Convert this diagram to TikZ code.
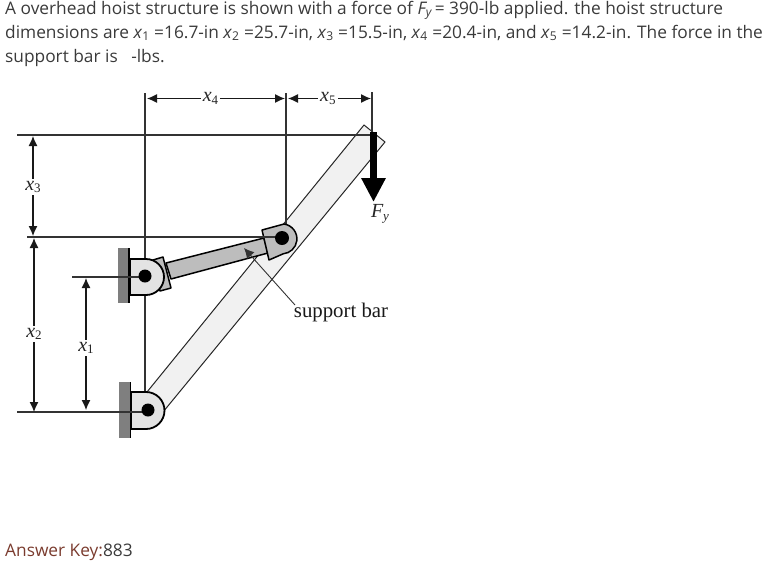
\documentclass[tikz,border=0pt]{standalone}
\usepackage{xcolor}
\usepackage{fontspec}
\setmainfont{Open Sans}
\newfontfamily\figfont{Liberation Serif}
\usetikzlibrary{arrows.meta,positioning}
\definecolor{txtgray}{HTML}{3A3A3A}
\definecolor{anskey}{HTML}{7A3B2E}
\definecolor{wallgray}{HTML}{7F7F7F}
\definecolor{linkgray}{HTML}{BDBDBD}
\definecolor{barlight}{HTML}{F1F1F1}
\definecolor{clevis}{HTML}{E3E3E3}
\newcommand{\xlab}[1]{{\figfont\fontsize{20}{20}\selectfont\textit{x}\raisebox{-2.5pt}{\fontsize{13}{13}\selectfont #1}}}
\newcommand{\xtxt}[1]{\textit{x}\textsubscript{#1}}
\tikzset{
  txtline/.style={anchor=base west,inner sep=0pt,text=txtgray,font=\fontsize{17.3}{17.3}\selectfont},
  guide/.style={draw=black!80,line width=1.1pt},
  dimline/.style={black!90,line width=1.2pt,{Latex[length=10pt,width=9pt]}-{Latex[length=10pt,width=9pt]}},
  dimlabel/.style={fill=white,inner sep=2pt,text=black!85},
  part/.style={draw=black,line width=1.8pt,line join=round}
}
\begin{document}
\begin{tikzpicture}[x=1pt,y=-1pt]
  \useasboundingbox (0,0) rectangle (770,560);
  % question text
  \node[txtline] (lineone) at (5,14) {A overhead hoist structure is shown with a force of \textit{F\textsubscript{y}}\,= 390-lb applied. the hoist structure};
  \node[txtline] (linetwo) at (5,38) {dimensions are \xtxt{1} =16.7-in \xtxt{2} =25.7-in, \xtxt{3} =15.5-in, \xtxt{4} =20.4-in, and \xtxt{5} =14.2-in. The force in the};
  \node[txtline] (linethree) at (5,62) {support bar is \ \ -lbs.};
  % support bar
  \draw[draw=black!85,line width=1pt,fill=barlight] (147,392) -- (364,125) -- (385,142) -- (163,412) -- cycle;
  % guide lines
  \coordinate (topleft) at (17,135);
  \coordinate (topright) at (372,135);
  \coordinate (midleft) at (27,237);
  \coordinate (midright) at (282,237);
  \coordinate (pinleft) at (72,277);
  \coordinate (pinright) at (146,277);
  \coordinate (botleft) at (17,412);
  \coordinate (botright) at (148,412);
  \coordinate (xa) at (145,93);
  \coordinate (xaend) at (145,392);
  \coordinate (xb) at (286,93);
  \coordinate (xbend) at (286,226);
  \coordinate (xc) at (372,92);
  \coordinate (xcend) at (372,132);
  \draw[guide] (topleft) -- (topright);
  \draw[guide] (midleft) -- (midright);
  \draw[guide] (xa) -- (xaend);
  \draw[guide] (xb) -- (xbend);
  \draw[guide] (xc) -- (xcend);
  % walls
  \fill[wallgray] (118,248) rectangle (129,303);
  \fill[wallgray] (119,382) rectangle (130,438);
  \draw[line width=1.5pt] (129,248) -- (129,303);
  \draw[line width=1.5pt] (130.5,382) -- (130.5,438);
  % link
  \draw[part,line width=1.5pt,fill=linkgray] (153,260) -- (163,257) -- (171,288) -- (160,291) -- cycle;
  \draw[part,line width=1.5pt,fill=linkgray] (166,263) -- (264,238) -- (268,253) -- (171,279) -- cycle;
  \draw[part,line width=1.5pt,fill=linkgray] (262,230) -- (284,224) arc[start angle=-82,end angle=85,radius=15] -- (269,260) -- cycle;
  % brackets and pins
  \draw[part,fill=clevis] (130,259) -- (146,259) arc[start angle=-90,end angle=90,radius=18] -- (130,295) -- cycle;
  \draw[part,fill=clevis] (131,392) -- (146,392) arc[start angle=-90,end angle=90,radius=18.5] -- (131,429) -- cycle;
  \draw[guide] (pinleft) -- (pinright);
  \draw[guide] (botleft) -- (botright);
  \draw[guide] (midleft) -- (midright);
  \fill (145,276) circle (6.5);
  \fill (148,410) circle (6.5);
  \fill (282,238) circle (7);
  % leader of the bar label
  \coordinate (leadtip) at (244,248);
  \coordinate (leadend) at (295,305);
  \draw[black!80,line width=.9pt,{Latex[length=10pt,width=10pt]}-] (leadtip) -- (leadend);
  \node[font=\figfont\fontsize{20.8}{20.8}\selectfont,text=black!90,inner sep=0pt] (barlabel) at (341,312) {support bar};
  % force
  \coordinate (forcetop) at (373.5,132);
  \coordinate (forcetip) at (373.5,202);
  \draw[line width=7pt,-{Triangle[length=24pt,width=23pt]}] (forcetop) -- (forcetip);
  \node[font=\figfont\fontsize{20}{20}\selectfont,text=black!85,inner sep=0pt] (forcelabel) at (380,214) {\textit{F\raisebox{-2.5pt}{\fontsize{13}{13}\selectfont y}}};
  % dimensions
  \coordinate (xthreetop) at (33,136);
  \coordinate (xthreebot) at (33,236);
  \coordinate (xtwotop) at (34,238);
  \coordinate (xtwobot) at (34,412);
  \coordinate (xonetop) at (86,278);
  \coordinate (xonebot) at (86,410);
  \coordinate (xfourl) at (147,98.5);
  \coordinate (xfourr) at (285,98.5);
  \coordinate (xfivel) at (288,98.5);
  \coordinate (xfiver) at (371,98.5);
  \draw[dimline] (xthreetop) -- (xthreebot) node[pos=.51,dimlabel] (xthree) {\xlab{3}};
  \draw[dimline] (xtwotop) -- (xtwobot) node[pos=.55,dimlabel] (xtwo) {\xlab{2}};
  \draw[dimline] (xonetop) -- (xonebot) node[pos=.53,dimlabel] (xone) {\xlab{1}};
  \draw[dimline] (xfourl) -- (xfourr) node[pos=.46,dimlabel] (xfour) {\xlab{4}};
  \draw[dimline] (xfivel) -- (xfiver) node[pos=.48,dimlabel] (xfive) {\xlab{5}};
  % answer
  \node[txtline,text=anskey] (answer) at (5,556) {Answer Key:\textcolor{txtgray}{883}};
\end{tikzpicture}
\end{document}
